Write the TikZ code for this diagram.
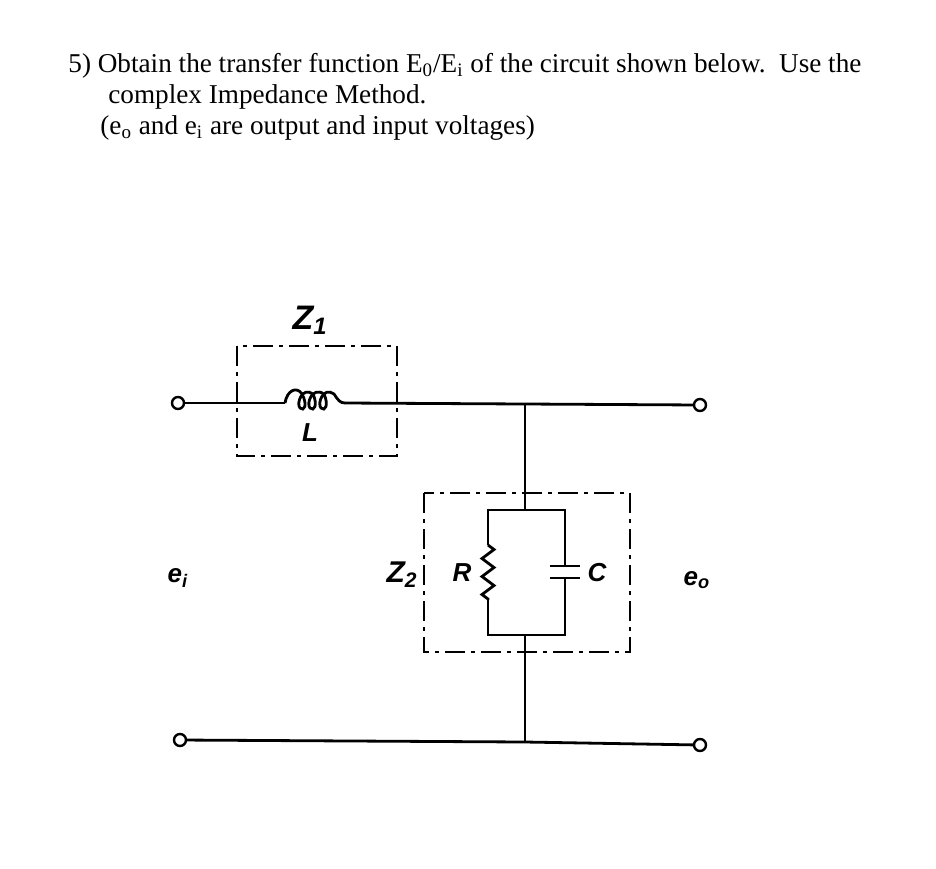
\documentclass[tikz,border=0pt]{standalone}
\usepackage{fontspec}
\setmainfont{Liberation Serif}
\newfontfamily\lab{Liberation Sans}
\usetikzlibrary{decorations.pathmorphing}
\begin{document}
\begin{tikzpicture}[x=0.5pt,y=-0.5pt,
  wire/.style={line width=1.4pt},
  dbox/.style={line width=1.1pt,dash pattern=on 10pt off 3pt on 2pt off 3pt},
  term/.style={circle,draw,line width=1.2pt,minimum size=6pt,inner sep=0pt,fill=white},
  lbl/.style={font=\lab\bfseries\itshape\fontsize{13}{14}\selectfont},
  txt/.style={anchor=base west,inner sep=0pt,font=\fontsize{13.6}{15}\selectfont}]
\useasboundingbox (0,0) rectangle (936,868);
\node[txt] (t1) at (68,72) {5) Obtain the transfer function E\textsubscript{0}/E\textsubscript{i} of the circuit shown below.\ \ Use the};
\node[txt] (t2) at (108,103) {complex Impedance Method.};
\node[txt] (t3) at (100,134) {(e\textsubscript{o} and e\textsubscript{i} are output and input voltages)};
% terminals
\node[term] (a) at (178,403) {};
\node[term] (b) at (700,405) {};
\node[term] (c) at (180,740) {};
\node[term] (d) at (700,745) {};
\coordinate (top) at (525,404);
\coordinate (bot) at (525,742);
% inductor
\coordinate (l1) at (285,403);
\coordinate (l2) at (345,403);
\draw[wire] (a) -- (l1);
\draw[wire] (l1) .. controls (287,390) and (297,386) .. (302,394)
  .. controls (308,405) and (304,412) .. (300,408)
  .. controls (296,404) and (302,386) .. (313,394)
  .. controls (318,405) and (314,412) .. (310,408)
  .. controls (306,404) and (312,386) .. (324,394)
  .. controls (329,405) and (325,412) .. (321,408)
  .. controls (317,404) and (323,386) .. (334,394)
  .. controls (338,400) and (340,403) .. (345,403);
\draw[wire] (l2) -- (top) -- (b);
\draw[dbox] (237,346) rectangle (397,456);
\node[lbl,font=\lab\bfseries\itshape\fontsize{17}{18}\selectfont] (z1) at (310,320) {Z\textsubscript{1}};
\node[lbl] (L) at (310,433) {L};
% RC
\coordinate (rt) at (525,510);
\coordinate (rb) at (525,635);
\draw[wire] (top) -- (rt);
\draw[wire] (rb) -- (bot);
\draw[wire] (rt) -- (488,510) -- (488,545);
\draw[wire,decorate,decoration={zigzag,segment length=9pt,amplitude=3pt}] (488,545) -- (488,600);
\draw[wire] (488,600) -- (488,635) -- (rb) -- (565,635) -- (565,578);
\draw[wire] (rt) -- (565,510) -- (565,566);
\draw[wire] (550,566) -- (580,566);
\draw[wire] (550,578) -- (580,578);
\draw[dbox] (424,493) rectangle (630,652);
\node[lbl] (R) at (462,573) {R};
\node[lbl] (C) at (597,573) {C};
\node[lbl,font=\lab\bfseries\itshape\fontsize{15}{16}\selectfont] (z2) at (402,575) {Z\textsubscript{2}};
\draw[wire] (c) -- (bot) -- (d);
\node[lbl] (ei) at (178,578) {e\textsubscript{i}};
\node[lbl] (eo) at (697,580) {e\textsubscript{o}};
\end{tikzpicture}
\end{document}
